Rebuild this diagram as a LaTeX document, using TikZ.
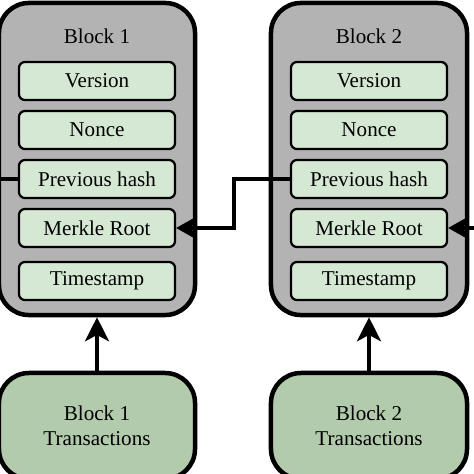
\documentclass[tikz,border=0pt]{standalone}
\usepackage{fontspec}
\setmainfont{Liberation Serif}
\usetikzlibrary{arrows.meta}

\definecolor{blockgray}{HTML}{B3B3B3}
\definecolor{fieldgreen}{HTML}{D5E8D4}
\definecolor{txgreen}{HTML}{B3CBAD}

\tikzset{
    blockbox/.style={draw, line width=3.2pt, fill=blockgray, rounded corners=0.75cm,
        minimum width=4.9cm, minimum height=7.8cm},
    fieldbox/.style={draw, line width=1.6pt, fill=fieldgreen, rounded corners=0.15cm,
        minimum width=3.9cm, minimum height=0.95cm, font=\fontsize{15}{17}\selectfont},
    txbox/.style={draw, line width=3.2pt, fill=txgreen, rounded corners=0.75cm,
        minimum width=4.9cm, minimum height=2.65cm, align=center,
        font=\fontsize{15}{18}\selectfont},
    link/.style={line width=2.4pt, -{Stealth[length=0.52cm, width=0.58cm, inset=0.14cm]}},
    feed/.style={line width=2.8pt, -{Stealth[length=0.6cm, width=0.6cm, inset=0.16cm]}},
}

\begin{document}
\begin{tikzpicture}[x=0.025cm, y=-0.025cm]
    \useasboundingbox (0,0) rectangle (474,474);
    \clip (0,0) rectangle (474,474);

    % the two blocks with their header fields
    \foreach \i/\x in {1/97, 2/369} {
        \node[blockbox] (block\i) at (\x,159) {};
        \node[font=\fontsize{15}{17}\selectfont] (title\i) at (\x,36) {Block \i};
        \node[fieldbox] (ver\i)  at (\x,81)  {Version};
        \node[fieldbox] (non\i)  at (\x,130) {Nonce};
        \node[fieldbox] (prev\i) at (\x,179) {Previous hash};
        \node[fieldbox] (merk\i) at (\x,228) {Merkle Root};
        \node[fieldbox] (time\i) at (\x,281) {Timestamp};

        \node[txbox] (tx\i) at (\x,426) {Block \i\\Transactions};
        \draw[feed] (tx\i) -- (block\i);
    }

    % hash pointers
    \coordinate (bend) at (234,179);
    \coordinate (left) at (-20,179);
    \coordinate (right) at (500,228);
    \draw[line width=2.4pt] (prev1.west) -- (left);
    \draw[link] (prev2.west) -- (bend) |- (merk1.east);
    \draw[link] (right) -- (merk2.east);
\end{tikzpicture}
\end{document}
